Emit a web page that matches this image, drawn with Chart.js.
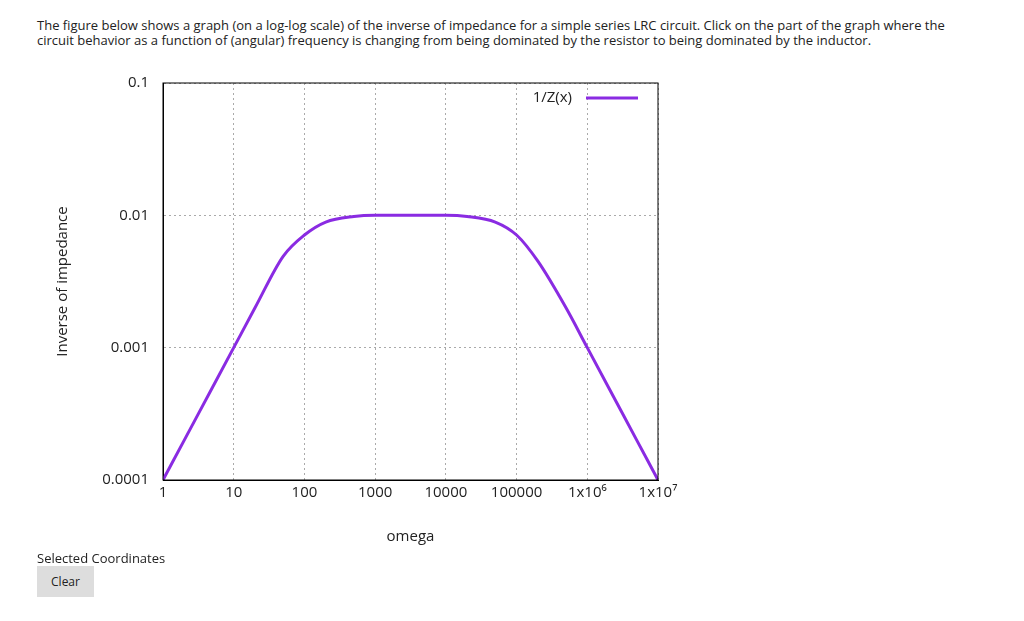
<!DOCTYPE html>
<html><head><meta charset="utf-8">
<script src="https://cdn.jsdelivr.net/npm/chart.js@4/dist/chart.umd.min.js"></script>
<style>
body{margin:0;background:#fff;font-family:"Open Sans",sans-serif;color:#222;}
#t{position:absolute;left:37px;top:18px;width:935px;font-size:13px;line-height:15px;}
#wrap{position:absolute;left:0;top:60px;width:700px;height:490px;}
#sel{position:absolute;left:37px;top:549px;font-size:13px;}
#btn{position:absolute;left:37px;top:566px;width:57px;height:31px;background:#ddd;font-size:12px;line-height:31px;text-align:center;}
</style></head><body>
<div id="t">The figure below shows a graph (on a log-log scale) of the inverse of impedance for a simple series LRC circuit. Click on the part of the graph where the circuit behavior as a function of (angular) frequency is changing from being dominated by the resistor to being dominated by the inductor.</div>
<div id="wrap"><canvas id="c"></canvas></div>
<div id="sel">Selected Coordinates</div>
<div id="btn">Clear</div>
<script>
const omega=[1,2,5,10,20,50,100,200,500,1000,3162,10000,20000,50000,100000,200000,500000,1000000,2000000,5000000,10000000];
const invZ=[1e-4,2e-4,5e-4,1e-3,2e-3,4.9e-3,7.1e-3,8.9e-3,9.8e-3,1e-2,1e-2,1e-2,9.8e-3,8.9e-3,7.1e-3,4.5e-3,2e-3,1e-3,5e-4,2e-4,1e-4];
const xTicks=[1,10,100,1000,10000,100000,1000000,10000000];
const xLabels=["1","10","100","1000","10000","100000","1x10\u2076","1x10\u2077"];
const yTicks=[0.0001,0.001,0.01,0.1];
const yLabels=["0.0001","0.001","0.01","0.1"];
const font={family:"Open Sans",size:15};
new Chart(document.getElementById('c'),{
type:'line',
data:{datasets:[{label:'1/Z(x)',data:omega.map((x,i)=>({x:x,y:invZ[i]})),borderColor:'#8a2be2',backgroundColor:'#8a2be2',borderWidth:3,pointRadius:0,tension:0.4,cubicInterpolationMode:'monotone'}]},
options:{responsive:true,maintainAspectRatio:false,animation:false,
layout:{padding:{top:8,right:42}},
plugins:{tooltip:{enabled:false},legend:{display:false}},
scales:{
x:{type:'logarithmic',min:1,max:1e7,
afterBuildTicks:s=>{s.ticks=xTicks.map(v=>({value:v}));},
afterFit:s=>{s.height=70;},
ticks:{font:font,color:'#222',autoSkip:false,maxRotation:0,padding:4,callback:(v)=>{const i=xTicks.indexOf(v);return i>=0?xLabels[i]:'';}},
grid:{color:'#aaa',drawTicks:false},border:{color:'#000',dash:[2,3]},
title:{display:true,text:'omega',font:{family:"Open Sans",size:15},color:'#222',padding:{top:4}}},
y:{type:'logarithmic',min:1e-4,max:0.1,
afterBuildTicks:s=>{s.ticks=yTicks.map(v=>({value:v}));},
afterFit:s=>{s.width=163;},
ticks:{font:font,color:'#222',padding:14,callback:(v)=>{const i=yTicks.indexOf(v);return i>=0?yLabels[i]:'';}},
grid:{color:'#aaa',drawTicks:false},border:{color:'#000',dash:[2,3]}}
}},
plugins:[{id:'frame',afterDraw(c){const a=c.chartArea,x=c.ctx;x.save();x.strokeStyle='#000';x.lineWidth=1;x.strokeRect(a.left,a.top,a.right-a.left,a.bottom-a.top);
x.fillStyle='#222';x.font='15px "Open Sans"';x.textAlign='right';x.textBaseline='middle';
const ly=a.top+15;x.fillText(c.data.datasets[0].label,a.right-86,ly);
x.strokeStyle='#8a2be2';x.lineWidth=3;x.beginPath();x.moveTo(a.right-72,ly);x.lineTo(a.right-20,ly);x.stroke();
x.translate(63,(a.top+a.bottom)/2);x.rotate(-Math.PI/2);x.textAlign='center';x.fillText('Inverse of impedance',0,0);
x.restore();}}]
});
</script></body></html>
